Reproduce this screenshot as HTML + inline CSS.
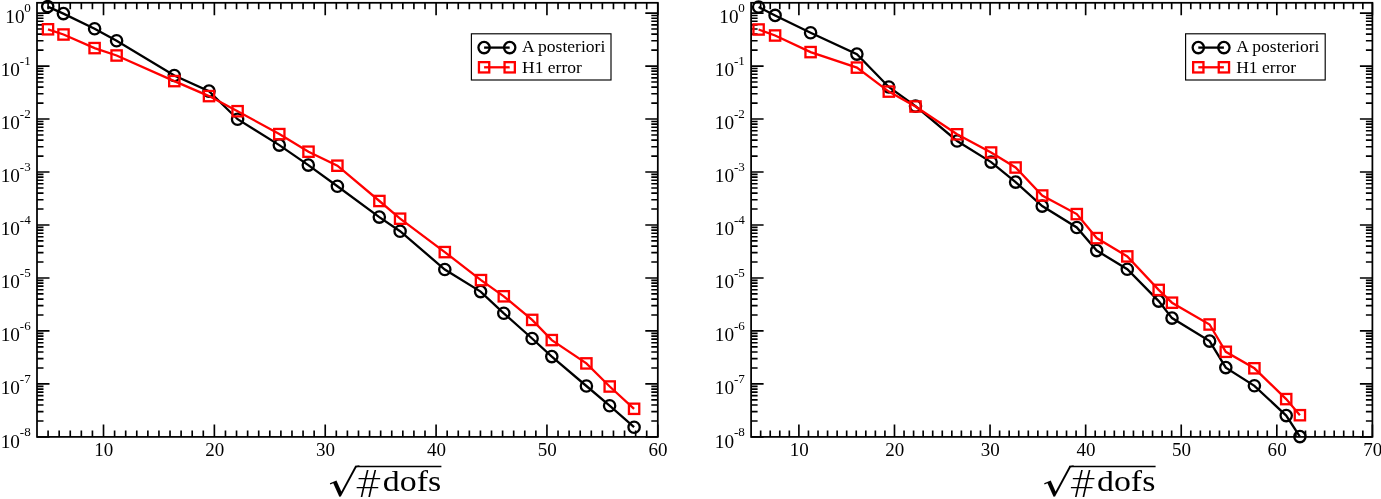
<!DOCTYPE html>
<html><head><meta charset="utf-8"><title>Error plots</title>
<style>
html,body{margin:0;padding:0;background:#fff;}
body{width:1381px;height:499px;overflow:hidden;}
svg{display:block;}
svg text{font-family:"Liberation Serif","DejaVu Serif",serif;}
svg text.hash{font-family:"DejaVu Sans Light","DejaVu Sans",sans-serif;font-weight:200;}
svg text.rad{font-family:"DejaVu Serif","DejaVu Sans",serif;}
</style></head><body>
<svg width="1381" height="499" viewBox="0 0 1381 499">
<rect width="1381" height="499" fill="#fff"/>
<path d="M48.09 436.9v-6.5M48.09 2.8v6.5M59.17 436.9v-6.5M59.17 2.8v6.5M70.26 436.9v-6.5M70.26 2.8v6.5M81.34 436.9v-6.5M81.34 2.8v6.5M92.43 436.9v-6.5M92.43 2.8v6.5M103.51 436.9v-12.5M103.51 2.8v12.5M114.6 436.9v-6.5M114.6 2.8v6.5M125.69 436.9v-6.5M125.69 2.8v6.5M136.77 436.9v-6.5M136.77 2.8v6.5M147.86 436.9v-6.5M147.86 2.8v6.5M158.94 436.9v-6.5M158.94 2.8v6.5M170.03 436.9v-6.5M170.03 2.8v6.5M181.11 436.9v-6.5M181.11 2.8v6.5M192.2 436.9v-6.5M192.2 2.8v6.5M203.29 436.9v-6.5M203.29 2.8v6.5M214.37 436.9v-12.5M214.37 2.8v12.5M225.46 436.9v-6.5M225.46 2.8v6.5M236.54 436.9v-6.5M236.54 2.8v6.5M247.63 436.9v-6.5M247.63 2.8v6.5M258.71 436.9v-6.5M258.71 2.8v6.5M269.8 436.9v-6.5M269.8 2.8v6.5M280.89 436.9v-6.5M280.89 2.8v6.5M291.97 436.9v-6.5M291.97 2.8v6.5M303.06 436.9v-6.5M303.06 2.8v6.5M314.14 436.9v-6.5M314.14 2.8v6.5M325.23 436.9v-12.5M325.23 2.8v12.5M336.31 436.9v-6.5M336.31 2.8v6.5M347.4 436.9v-6.5M347.4 2.8v6.5M358.49 436.9v-6.5M358.49 2.8v6.5M369.57 436.9v-6.5M369.57 2.8v6.5M380.66 436.9v-6.5M380.66 2.8v6.5M391.74 436.9v-6.5M391.74 2.8v6.5M402.83 436.9v-6.5M402.83 2.8v6.5M413.91 436.9v-6.5M413.91 2.8v6.5M425 436.9v-6.5M425 2.8v6.5M436.09 436.9v-12.5M436.09 2.8v12.5M447.17 436.9v-6.5M447.17 2.8v6.5M458.26 436.9v-6.5M458.26 2.8v6.5M469.34 436.9v-6.5M469.34 2.8v6.5M480.43 436.9v-6.5M480.43 2.8v6.5M491.51 436.9v-6.5M491.51 2.8v6.5M502.6 436.9v-6.5M502.6 2.8v6.5M513.69 436.9v-6.5M513.69 2.8v6.5M524.77 436.9v-6.5M524.77 2.8v6.5M535.86 436.9v-6.5M535.86 2.8v6.5M546.94 436.9v-12.5M546.94 2.8v12.5M558.03 436.9v-6.5M558.03 2.8v6.5M569.11 436.9v-6.5M569.11 2.8v6.5M580.2 436.9v-6.5M580.2 2.8v6.5M591.29 436.9v-6.5M591.29 2.8v6.5M602.37 436.9v-6.5M602.37 2.8v6.5M613.46 436.9v-6.5M613.46 2.8v6.5M624.54 436.9v-6.5M624.54 2.8v6.5M635.63 436.9v-6.5M635.63 2.8v6.5M646.71 436.9v-6.5M646.71 2.8v6.5M657.8 436.9v-12.5M657.8 2.8v12.5M37 436.9h12.5M657.8 436.9h-12.5M37 420.95h6.5M657.8 420.95h-6.5M37 411.62h6.5M657.8 411.62h-6.5M37 405h6.5M657.8 405h-6.5M37 399.87h6.5M657.8 399.87h-6.5M37 395.68h6.5M657.8 395.68h-6.5M37 392.13h6.5M657.8 392.13h-6.5M37 389.06h6.5M657.8 389.06h-6.5M37 386.35h6.5M657.8 386.35h-6.5M37 383.92h12.5M657.8 383.92h-12.5M37 367.97h6.5M657.8 367.97h-6.5M37 358.65h6.5M657.8 358.65h-6.5M37 352.03h6.5M657.8 352.03h-6.5M37 346.89h6.5M657.8 346.89h-6.5M37 342.7h6.5M657.8 342.7h-6.5M37 339.15h6.5M657.8 339.15h-6.5M37 336.08h6.5M657.8 336.08h-6.5M37 333.37h6.5M657.8 333.37h-6.5M37 330.94h12.5M657.8 330.94h-12.5M37 315h6.5M657.8 315h-6.5M37 305.67h6.5M657.8 305.67h-6.5M37 299.05h6.5M657.8 299.05h-6.5M37 293.92h6.5M657.8 293.92h-6.5M37 289.72h6.5M657.8 289.72h-6.5M37 286.17h6.5M657.8 286.17h-6.5M37 283.1h6.5M657.8 283.1h-6.5M37 280.39h6.5M657.8 280.39h-6.5M37 277.97h12.5M657.8 277.97h-12.5M37 262.02h6.5M657.8 262.02h-6.5M37 252.69h6.5M657.8 252.69h-6.5M37 246.07h6.5M657.8 246.07h-6.5M37 240.94h6.5M657.8 240.94h-6.5M37 236.74h6.5M657.8 236.74h-6.5M37 233.2h6.5M657.8 233.2h-6.5M37 230.12h6.5M657.8 230.12h-6.5M37 227.41h6.5M657.8 227.41h-6.5M37 224.99h12.5M657.8 224.99h-12.5M37 209.04h6.5M657.8 209.04h-6.5M37 199.71h6.5M657.8 199.71h-6.5M37 193.09h6.5M657.8 193.09h-6.5M37 187.96h6.5M657.8 187.96h-6.5M37 183.77h6.5M657.8 183.77h-6.5M37 180.22h6.5M657.8 180.22h-6.5M37 177.15h6.5M657.8 177.15h-6.5M37 174.44h6.5M657.8 174.44h-6.5M37 172.01h12.5M657.8 172.01h-12.5M37 156.06h6.5M657.8 156.06h-6.5M37 146.74h6.5M657.8 146.74h-6.5M37 140.12h6.5M657.8 140.12h-6.5M37 134.98h6.5M657.8 134.98h-6.5M37 130.79h6.5M657.8 130.79h-6.5M37 127.24h6.5M657.8 127.24h-6.5M37 124.17h6.5M657.8 124.17h-6.5M37 121.46h6.5M657.8 121.46h-6.5M37 119.03h12.5M657.8 119.03h-12.5M37 103.09h6.5M657.8 103.09h-6.5M37 93.76h6.5M657.8 93.76h-6.5M37 87.14h6.5M657.8 87.14h-6.5M37 82.01h6.5M657.8 82.01h-6.5M37 77.81h6.5M657.8 77.81h-6.5M37 74.26h6.5M657.8 74.26h-6.5M37 71.19h6.5M657.8 71.19h-6.5M37 68.48h6.5M657.8 68.48h-6.5M37 66.06h12.5M657.8 66.06h-12.5M37 50.11h6.5M657.8 50.11h-6.5M37 40.78h6.5M657.8 40.78h-6.5M37 34.16h6.5M657.8 34.16h-6.5M37 29.03h6.5M657.8 29.03h-6.5M37 24.83h6.5M657.8 24.83h-6.5M37 21.29h6.5M657.8 21.29h-6.5M37 18.21h6.5M657.8 18.21h-6.5M37 15.5h6.5M657.8 15.5h-6.5M37 13.08h12.5M657.8 13.08h-12.5" fill="none" stroke="#000" stroke-width="1.65"/>
<rect x="37" y="2.8" width="620.8" height="434.1" fill="none" stroke="#000" stroke-width="1.75"/>
<g font-size="18.5" fill="#000">
<text transform="translate(19.9 447.7) scale(1.04 1)" text-anchor="end">10</text><text transform="translate(30.7 436.2) scale(0.97 1)" text-anchor="end" font-size="13.5">-8</text>
<text transform="translate(19.9 394.12) scale(1.04 1)" text-anchor="end">10</text><text transform="translate(30.7 382.82) scale(0.97 1)" text-anchor="end" font-size="13.5">-7</text>
<text transform="translate(19.9 341.14) scale(1.04 1)" text-anchor="end">10</text><text transform="translate(30.7 329.84) scale(0.97 1)" text-anchor="end" font-size="13.5">-6</text>
<text transform="translate(19.9 288.17) scale(1.04 1)" text-anchor="end">10</text><text transform="translate(30.7 276.87) scale(0.97 1)" text-anchor="end" font-size="13.5">-5</text>
<text transform="translate(19.9 235.19) scale(1.04 1)" text-anchor="end">10</text><text transform="translate(30.7 223.89) scale(0.97 1)" text-anchor="end" font-size="13.5">-4</text>
<text transform="translate(19.9 182.21) scale(1.04 1)" text-anchor="end">10</text><text transform="translate(30.7 170.91) scale(0.97 1)" text-anchor="end" font-size="13.5">-3</text>
<text transform="translate(19.9 129.23) scale(1.04 1)" text-anchor="end">10</text><text transform="translate(30.7 117.94) scale(0.97 1)" text-anchor="end" font-size="13.5">-2</text>
<text transform="translate(19.9 76.26) scale(1.04 1)" text-anchor="end">10</text><text transform="translate(30.7 64.96) scale(0.97 1)" text-anchor="end" font-size="13.5">-1</text>
<text transform="translate(24.5 23.28) scale(1.04 1)" text-anchor="end">10</text><text transform="translate(30.7 11.98) scale(0.97 1)" text-anchor="end" font-size="13.5">0</text>
<text transform="translate(103.81 455.8) scale(1.03 1)" text-anchor="middle">10</text>
<text transform="translate(214.67 455.8) scale(1.03 1)" text-anchor="middle">20</text>
<text transform="translate(325.53 455.8) scale(1.03 1)" text-anchor="middle">30</text>
<text transform="translate(436.39 455.8) scale(1.03 1)" text-anchor="middle">40</text>
<text transform="translate(547.24 455.8) scale(1.03 1)" text-anchor="middle">50</text>
<text transform="translate(658.1 455.8) scale(1.03 1)" text-anchor="middle">60</text>
</g>
<g fill="none" stroke="#000" stroke-width="2.3">
<polyline points="47.7,6.6 63.4,13.6 94.6,28.7 116.6,40.7 174.3,75.5 209,91.1 237.6,119.2 279.3,145.1 308.3,165.1 337.4,186.2 379.3,217.1 400.1,231.2 444.8,269.5 480.6,291.6 503.8,313.3 532.1,338.5 551.8,356.6 586.4,386 609.6,405.7 634.1,427.2"/>
<circle cx="47.7" cy="6.6" r="5.65"/>
<circle cx="63.4" cy="13.6" r="5.65"/>
<circle cx="94.6" cy="28.7" r="5.65"/>
<circle cx="116.6" cy="40.7" r="5.65"/>
<circle cx="174.3" cy="75.5" r="5.65"/>
<circle cx="209" cy="91.1" r="5.65"/>
<circle cx="237.6" cy="119.2" r="5.65"/>
<circle cx="279.3" cy="145.1" r="5.65"/>
<circle cx="308.3" cy="165.1" r="5.65"/>
<circle cx="337.4" cy="186.2" r="5.65"/>
<circle cx="379.3" cy="217.1" r="5.65"/>
<circle cx="400.1" cy="231.2" r="5.65"/>
<circle cx="444.8" cy="269.5" r="5.65"/>
<circle cx="480.6" cy="291.6" r="5.65"/>
<circle cx="503.8" cy="313.3" r="5.65"/>
<circle cx="532.1" cy="338.5" r="5.65"/>
<circle cx="551.8" cy="356.6" r="5.65"/>
<circle cx="586.4" cy="386" r="5.65"/>
<circle cx="609.6" cy="405.7" r="5.65"/>
<circle cx="634.1" cy="427.2" r="5.65"/>
</g>
<g fill="none" stroke="#f00" stroke-width="2.3">
<polyline points="48,29.3 63.5,34.5 94.6,48.1 116.6,55.5 174.3,81.1 209,96.1 237.6,111.2 279.3,134.1 308.5,151.7 337.4,165.7 379.4,201 400.1,218.7 444.8,252.1 481,280.1 503.8,296.3 532.2,319.9 551.8,340.1 586.4,363.4 609.7,386.5 634.1,408.8"/>
<rect x="42.85" y="24.15" width="10.3" height="10.3"/>
<rect x="58.35" y="29.35" width="10.3" height="10.3"/>
<rect x="89.45" y="42.95" width="10.3" height="10.3"/>
<rect x="111.45" y="50.35" width="10.3" height="10.3"/>
<rect x="169.15" y="75.95" width="10.3" height="10.3"/>
<rect x="203.85" y="90.95" width="10.3" height="10.3"/>
<rect x="232.45" y="106.05" width="10.3" height="10.3"/>
<rect x="274.15" y="128.95" width="10.3" height="10.3"/>
<rect x="303.35" y="146.55" width="10.3" height="10.3"/>
<rect x="332.25" y="160.55" width="10.3" height="10.3"/>
<rect x="374.25" y="195.85" width="10.3" height="10.3"/>
<rect x="394.95" y="213.55" width="10.3" height="10.3"/>
<rect x="439.65" y="246.95" width="10.3" height="10.3"/>
<rect x="475.85" y="274.95" width="10.3" height="10.3"/>
<rect x="498.65" y="291.15" width="10.3" height="10.3"/>
<rect x="527.05" y="314.75" width="10.3" height="10.3"/>
<rect x="546.65" y="334.95" width="10.3" height="10.3"/>
<rect x="581.25" y="358.25" width="10.3" height="10.3"/>
<rect x="604.55" y="381.35" width="10.3" height="10.3"/>
<rect x="628.95" y="403.65" width="10.3" height="10.3"/>
</g>
<rect x="471.4" y="33.8" width="139.6" height="46.2" fill="#fff" stroke="#000" stroke-width="1.15"/>
<g fill="none" stroke="#000" stroke-width="2.3"><path d="M484.1 47.6h25.6"/><circle cx="484.1" cy="47.6" r="5.65"/><circle cx="509.7" cy="47.6" r="5.65"/></g>
<g fill="none" stroke="#f00" stroke-width="2.3"><path d="M484.1 67.3h25.6"/><rect x="478.95" y="62.15" width="10.3" height="10.3"/><rect x="504.55" y="62.15" width="10.3" height="10.3"/></g>
<text transform="translate(522 51.6) scale(1.07 1)" font-size="16.4">A posteriori</text>
<text transform="translate(522 72.6) scale(1.07 1)" font-size="16.4">H1 error</text>
<g transform="translate(0 0)">
<path d="M355 466.6H441.4" fill="none" stroke="#000" stroke-width="1.5"/>
<text transform="matrix(1.17146 -0.20717 -0.07062 0.85622 327.175 498.192)" font-size="40" class="rad">√</text><text transform="translate(354.05 497.2) scale(0.94 1)" font-size="36.6" class="hash">#</text><text transform="translate(382.8 490.8) scale(1.16 1)" font-size="29.2">dofs</text>
</g>
<path d="M760.66 436.9v-6.5M760.66 2.8v6.5M770.22 436.9v-6.5M770.22 2.8v6.5M779.78 436.9v-6.5M779.78 2.8v6.5M789.33 436.9v-6.5M789.33 2.8v6.5M798.89 436.9v-12.5M798.89 2.8v12.5M808.45 436.9v-6.5M808.45 2.8v6.5M818.01 436.9v-6.5M818.01 2.8v6.5M827.57 436.9v-6.5M827.57 2.8v6.5M837.13 436.9v-6.5M837.13 2.8v6.5M846.68 436.9v-6.5M846.68 2.8v6.5M856.24 436.9v-6.5M856.24 2.8v6.5M865.8 436.9v-6.5M865.8 2.8v6.5M875.36 436.9v-6.5M875.36 2.8v6.5M884.92 436.9v-6.5M884.92 2.8v6.5M894.48 436.9v-12.5M894.48 2.8v12.5M904.04 436.9v-6.5M904.04 2.8v6.5M913.59 436.9v-6.5M913.59 2.8v6.5M923.15 436.9v-6.5M923.15 2.8v6.5M932.71 436.9v-6.5M932.71 2.8v6.5M942.27 436.9v-6.5M942.27 2.8v6.5M951.83 436.9v-6.5M951.83 2.8v6.5M961.39 436.9v-6.5M961.39 2.8v6.5M970.94 436.9v-6.5M970.94 2.8v6.5M980.5 436.9v-6.5M980.5 2.8v6.5M990.06 436.9v-12.5M990.06 2.8v12.5M999.62 436.9v-6.5M999.62 2.8v6.5M1009.18 436.9v-6.5M1009.18 2.8v6.5M1018.74 436.9v-6.5M1018.74 2.8v6.5M1028.3 436.9v-6.5M1028.3 2.8v6.5M1037.85 436.9v-6.5M1037.85 2.8v6.5M1047.41 436.9v-6.5M1047.41 2.8v6.5M1056.97 436.9v-6.5M1056.97 2.8v6.5M1066.53 436.9v-6.5M1066.53 2.8v6.5M1076.09 436.9v-6.5M1076.09 2.8v6.5M1085.65 436.9v-12.5M1085.65 2.8v12.5M1095.2 436.9v-6.5M1095.2 2.8v6.5M1104.76 436.9v-6.5M1104.76 2.8v6.5M1114.32 436.9v-6.5M1114.32 2.8v6.5M1123.88 436.9v-6.5M1123.88 2.8v6.5M1133.44 436.9v-6.5M1133.44 2.8v6.5M1143 436.9v-6.5M1143 2.8v6.5M1152.56 436.9v-6.5M1152.56 2.8v6.5M1162.11 436.9v-6.5M1162.11 2.8v6.5M1171.67 436.9v-6.5M1171.67 2.8v6.5M1181.23 436.9v-12.5M1181.23 2.8v12.5M1190.79 436.9v-6.5M1190.79 2.8v6.5M1200.35 436.9v-6.5M1200.35 2.8v6.5M1209.91 436.9v-6.5M1209.91 2.8v6.5M1219.46 436.9v-6.5M1219.46 2.8v6.5M1229.02 436.9v-6.5M1229.02 2.8v6.5M1238.58 436.9v-6.5M1238.58 2.8v6.5M1248.14 436.9v-6.5M1248.14 2.8v6.5M1257.7 436.9v-6.5M1257.7 2.8v6.5M1267.26 436.9v-6.5M1267.26 2.8v6.5M1276.82 436.9v-12.5M1276.82 2.8v12.5M1286.37 436.9v-6.5M1286.37 2.8v6.5M1295.93 436.9v-6.5M1295.93 2.8v6.5M1305.49 436.9v-6.5M1305.49 2.8v6.5M1315.05 436.9v-6.5M1315.05 2.8v6.5M1324.61 436.9v-6.5M1324.61 2.8v6.5M1334.17 436.9v-6.5M1334.17 2.8v6.5M1343.72 436.9v-6.5M1343.72 2.8v6.5M1353.28 436.9v-6.5M1353.28 2.8v6.5M1362.84 436.9v-6.5M1362.84 2.8v6.5M1372.4 436.9v-12.5M1372.4 2.8v12.5M751.1 436.9h12.5M1372.4 436.9h-12.5M751.1 420.95h6.5M1372.4 420.95h-6.5M751.1 411.62h6.5M1372.4 411.62h-6.5M751.1 405h6.5M1372.4 405h-6.5M751.1 399.87h6.5M1372.4 399.87h-6.5M751.1 395.68h6.5M1372.4 395.68h-6.5M751.1 392.13h6.5M1372.4 392.13h-6.5M751.1 389.06h6.5M1372.4 389.06h-6.5M751.1 386.35h6.5M1372.4 386.35h-6.5M751.1 383.92h12.5M1372.4 383.92h-12.5M751.1 367.97h6.5M1372.4 367.97h-6.5M751.1 358.65h6.5M1372.4 358.65h-6.5M751.1 352.03h6.5M1372.4 352.03h-6.5M751.1 346.89h6.5M1372.4 346.89h-6.5M751.1 342.7h6.5M1372.4 342.7h-6.5M751.1 339.15h6.5M1372.4 339.15h-6.5M751.1 336.08h6.5M1372.4 336.08h-6.5M751.1 333.37h6.5M1372.4 333.37h-6.5M751.1 330.94h12.5M1372.4 330.94h-12.5M751.1 315h6.5M1372.4 315h-6.5M751.1 305.67h6.5M1372.4 305.67h-6.5M751.1 299.05h6.5M1372.4 299.05h-6.5M751.1 293.92h6.5M1372.4 293.92h-6.5M751.1 289.72h6.5M1372.4 289.72h-6.5M751.1 286.17h6.5M1372.4 286.17h-6.5M751.1 283.1h6.5M1372.4 283.1h-6.5M751.1 280.39h6.5M1372.4 280.39h-6.5M751.1 277.97h12.5M1372.4 277.97h-12.5M751.1 262.02h6.5M1372.4 262.02h-6.5M751.1 252.69h6.5M1372.4 252.69h-6.5M751.1 246.07h6.5M1372.4 246.07h-6.5M751.1 240.94h6.5M1372.4 240.94h-6.5M751.1 236.74h6.5M1372.4 236.74h-6.5M751.1 233.2h6.5M1372.4 233.2h-6.5M751.1 230.12h6.5M1372.4 230.12h-6.5M751.1 227.41h6.5M1372.4 227.41h-6.5M751.1 224.99h12.5M1372.4 224.99h-12.5M751.1 209.04h6.5M1372.4 209.04h-6.5M751.1 199.71h6.5M1372.4 199.71h-6.5M751.1 193.09h6.5M1372.4 193.09h-6.5M751.1 187.96h6.5M1372.4 187.96h-6.5M751.1 183.77h6.5M1372.4 183.77h-6.5M751.1 180.22h6.5M1372.4 180.22h-6.5M751.1 177.15h6.5M1372.4 177.15h-6.5M751.1 174.44h6.5M1372.4 174.44h-6.5M751.1 172.01h12.5M1372.4 172.01h-12.5M751.1 156.06h6.5M1372.4 156.06h-6.5M751.1 146.74h6.5M1372.4 146.74h-6.5M751.1 140.12h6.5M1372.4 140.12h-6.5M751.1 134.98h6.5M1372.4 134.98h-6.5M751.1 130.79h6.5M1372.4 130.79h-6.5M751.1 127.24h6.5M1372.4 127.24h-6.5M751.1 124.17h6.5M1372.4 124.17h-6.5M751.1 121.46h6.5M1372.4 121.46h-6.5M751.1 119.03h12.5M1372.4 119.03h-12.5M751.1 103.09h6.5M1372.4 103.09h-6.5M751.1 93.76h6.5M1372.4 93.76h-6.5M751.1 87.14h6.5M1372.4 87.14h-6.5M751.1 82.01h6.5M1372.4 82.01h-6.5M751.1 77.81h6.5M1372.4 77.81h-6.5M751.1 74.26h6.5M1372.4 74.26h-6.5M751.1 71.19h6.5M1372.4 71.19h-6.5M751.1 68.48h6.5M1372.4 68.48h-6.5M751.1 66.06h12.5M1372.4 66.06h-12.5M751.1 50.11h6.5M1372.4 50.11h-6.5M751.1 40.78h6.5M1372.4 40.78h-6.5M751.1 34.16h6.5M1372.4 34.16h-6.5M751.1 29.03h6.5M1372.4 29.03h-6.5M751.1 24.83h6.5M1372.4 24.83h-6.5M751.1 21.29h6.5M1372.4 21.29h-6.5M751.1 18.21h6.5M1372.4 18.21h-6.5M751.1 15.5h6.5M1372.4 15.5h-6.5M751.1 13.08h12.5M1372.4 13.08h-12.5" fill="none" stroke="#000" stroke-width="1.65"/>
<rect x="751.1" y="2.8" width="621.3" height="434.1" fill="none" stroke="#000" stroke-width="1.75"/>
<g font-size="18.5" fill="#000">
<text transform="translate(734 447.7) scale(1.04 1)" text-anchor="end">10</text><text transform="translate(744.8 436.2) scale(0.97 1)" text-anchor="end" font-size="13.5">-8</text>
<text transform="translate(734 394.12) scale(1.04 1)" text-anchor="end">10</text><text transform="translate(744.8 382.82) scale(0.97 1)" text-anchor="end" font-size="13.5">-7</text>
<text transform="translate(734 341.14) scale(1.04 1)" text-anchor="end">10</text><text transform="translate(744.8 329.84) scale(0.97 1)" text-anchor="end" font-size="13.5">-6</text>
<text transform="translate(734 288.17) scale(1.04 1)" text-anchor="end">10</text><text transform="translate(744.8 276.87) scale(0.97 1)" text-anchor="end" font-size="13.5">-5</text>
<text transform="translate(734 235.19) scale(1.04 1)" text-anchor="end">10</text><text transform="translate(744.8 223.89) scale(0.97 1)" text-anchor="end" font-size="13.5">-4</text>
<text transform="translate(734 182.21) scale(1.04 1)" text-anchor="end">10</text><text transform="translate(744.8 170.91) scale(0.97 1)" text-anchor="end" font-size="13.5">-3</text>
<text transform="translate(734 129.23) scale(1.04 1)" text-anchor="end">10</text><text transform="translate(744.8 117.94) scale(0.97 1)" text-anchor="end" font-size="13.5">-2</text>
<text transform="translate(734 76.26) scale(1.04 1)" text-anchor="end">10</text><text transform="translate(744.8 64.96) scale(0.97 1)" text-anchor="end" font-size="13.5">-1</text>
<text transform="translate(738.6 23.28) scale(1.04 1)" text-anchor="end">10</text><text transform="translate(744.8 11.98) scale(0.97 1)" text-anchor="end" font-size="13.5">0</text>
<text transform="translate(799.19 455.8) scale(1.03 1)" text-anchor="middle">10</text>
<text transform="translate(894.78 455.8) scale(1.03 1)" text-anchor="middle">20</text>
<text transform="translate(990.36 455.8) scale(1.03 1)" text-anchor="middle">30</text>
<text transform="translate(1085.95 455.8) scale(1.03 1)" text-anchor="middle">40</text>
<text transform="translate(1181.53 455.8) scale(1.03 1)" text-anchor="middle">50</text>
<text transform="translate(1277.12 455.8) scale(1.03 1)" text-anchor="middle">60</text>
<text transform="translate(1372.7 455.8) scale(1.03 1)" text-anchor="middle">70</text>
</g>
<g fill="none" stroke="#000" stroke-width="2.3">
<polyline points="758.6,7 775.1,15.4 810.6,32.7 856.9,54.1 888.8,87 915.5,106.1 957.1,141 991.1,162.1 1015.6,182.1 1042.2,206.1 1076.8,227.5 1096.7,250.6 1127.3,269.2 1158.7,301.1 1172,318.1 1209.6,341.1 1225.8,367.6 1254.4,385.8 1286.2,415.6 1299.9,436.6"/>
<circle cx="758.6" cy="7" r="5.65"/>
<circle cx="775.1" cy="15.4" r="5.65"/>
<circle cx="810.6" cy="32.7" r="5.65"/>
<circle cx="856.9" cy="54.1" r="5.65"/>
<circle cx="888.8" cy="87" r="5.65"/>
<circle cx="915.5" cy="106.1" r="5.65"/>
<circle cx="957.1" cy="141" r="5.65"/>
<circle cx="991.1" cy="162.1" r="5.65"/>
<circle cx="1015.6" cy="182.1" r="5.65"/>
<circle cx="1042.2" cy="206.1" r="5.65"/>
<circle cx="1076.8" cy="227.5" r="5.65"/>
<circle cx="1096.7" cy="250.6" r="5.65"/>
<circle cx="1127.3" cy="269.2" r="5.65"/>
<circle cx="1158.7" cy="301.1" r="5.65"/>
<circle cx="1172" cy="318.1" r="5.65"/>
<circle cx="1209.6" cy="341.1" r="5.65"/>
<circle cx="1225.8" cy="367.6" r="5.65"/>
<circle cx="1254.4" cy="385.8" r="5.65"/>
<circle cx="1286.2" cy="415.6" r="5.65"/>
<circle cx="1299.9" cy="436.6" r="5.65"/>
</g>
<g fill="none" stroke="#f00" stroke-width="2.3">
<polyline points="758.6,29.5 775.1,35.5 810.6,52.1 856.9,67.6 888.8,91.6 915.5,106.5 957.1,134.3 991.1,152.5 1015.6,167.5 1042.2,195.5 1076.8,214.1 1096.7,238.1 1127.3,256.4 1158.7,289.9 1172,302.7 1209.6,324.5 1225.8,351.8 1254.4,368.3 1286.2,399.1 1299.9,415.2"/>
<rect x="753.45" y="24.35" width="10.3" height="10.3"/>
<rect x="769.95" y="30.35" width="10.3" height="10.3"/>
<rect x="805.45" y="46.95" width="10.3" height="10.3"/>
<rect x="851.75" y="62.45" width="10.3" height="10.3"/>
<rect x="883.65" y="86.45" width="10.3" height="10.3"/>
<rect x="910.35" y="101.35" width="10.3" height="10.3"/>
<rect x="951.95" y="129.15" width="10.3" height="10.3"/>
<rect x="985.95" y="147.35" width="10.3" height="10.3"/>
<rect x="1010.45" y="162.35" width="10.3" height="10.3"/>
<rect x="1037.05" y="190.35" width="10.3" height="10.3"/>
<rect x="1071.65" y="208.95" width="10.3" height="10.3"/>
<rect x="1091.55" y="232.95" width="10.3" height="10.3"/>
<rect x="1122.15" y="251.25" width="10.3" height="10.3"/>
<rect x="1153.55" y="284.75" width="10.3" height="10.3"/>
<rect x="1166.85" y="297.55" width="10.3" height="10.3"/>
<rect x="1204.45" y="319.35" width="10.3" height="10.3"/>
<rect x="1220.65" y="346.65" width="10.3" height="10.3"/>
<rect x="1249.25" y="363.15" width="10.3" height="10.3"/>
<rect x="1281.05" y="393.95" width="10.3" height="10.3"/>
<rect x="1294.75" y="410.05" width="10.3" height="10.3"/>
</g>
<rect x="1185.6" y="33.8" width="139.6" height="46.2" fill="#fff" stroke="#000" stroke-width="1.15"/>
<g fill="none" stroke="#000" stroke-width="2.3"><path d="M1198.3 47.6h25.6"/><circle cx="1198.3" cy="47.6" r="5.65"/><circle cx="1223.9" cy="47.6" r="5.65"/></g>
<g fill="none" stroke="#f00" stroke-width="2.3"><path d="M1198.3 67.3h25.6"/><rect x="1193.15" y="62.15" width="10.3" height="10.3"/><rect x="1218.75" y="62.15" width="10.3" height="10.3"/></g>
<text transform="translate(1236.2 51.6) scale(1.07 1)" font-size="16.4">A posteriori</text>
<text transform="translate(1236.2 72.6) scale(1.07 1)" font-size="16.4">H1 error</text>
<g transform="translate(714.2 0)">
<path d="M355 466.6H441.4" fill="none" stroke="#000" stroke-width="1.5"/>
<text transform="matrix(1.17146 -0.20717 -0.07062 0.85622 327.175 498.192)" font-size="40" class="rad">√</text><text transform="translate(354.05 497.2) scale(0.94 1)" font-size="36.6" class="hash">#</text><text transform="translate(382.8 490.8) scale(1.16 1)" font-size="29.2">dofs</text>
</g>
</svg>
</body></html>
